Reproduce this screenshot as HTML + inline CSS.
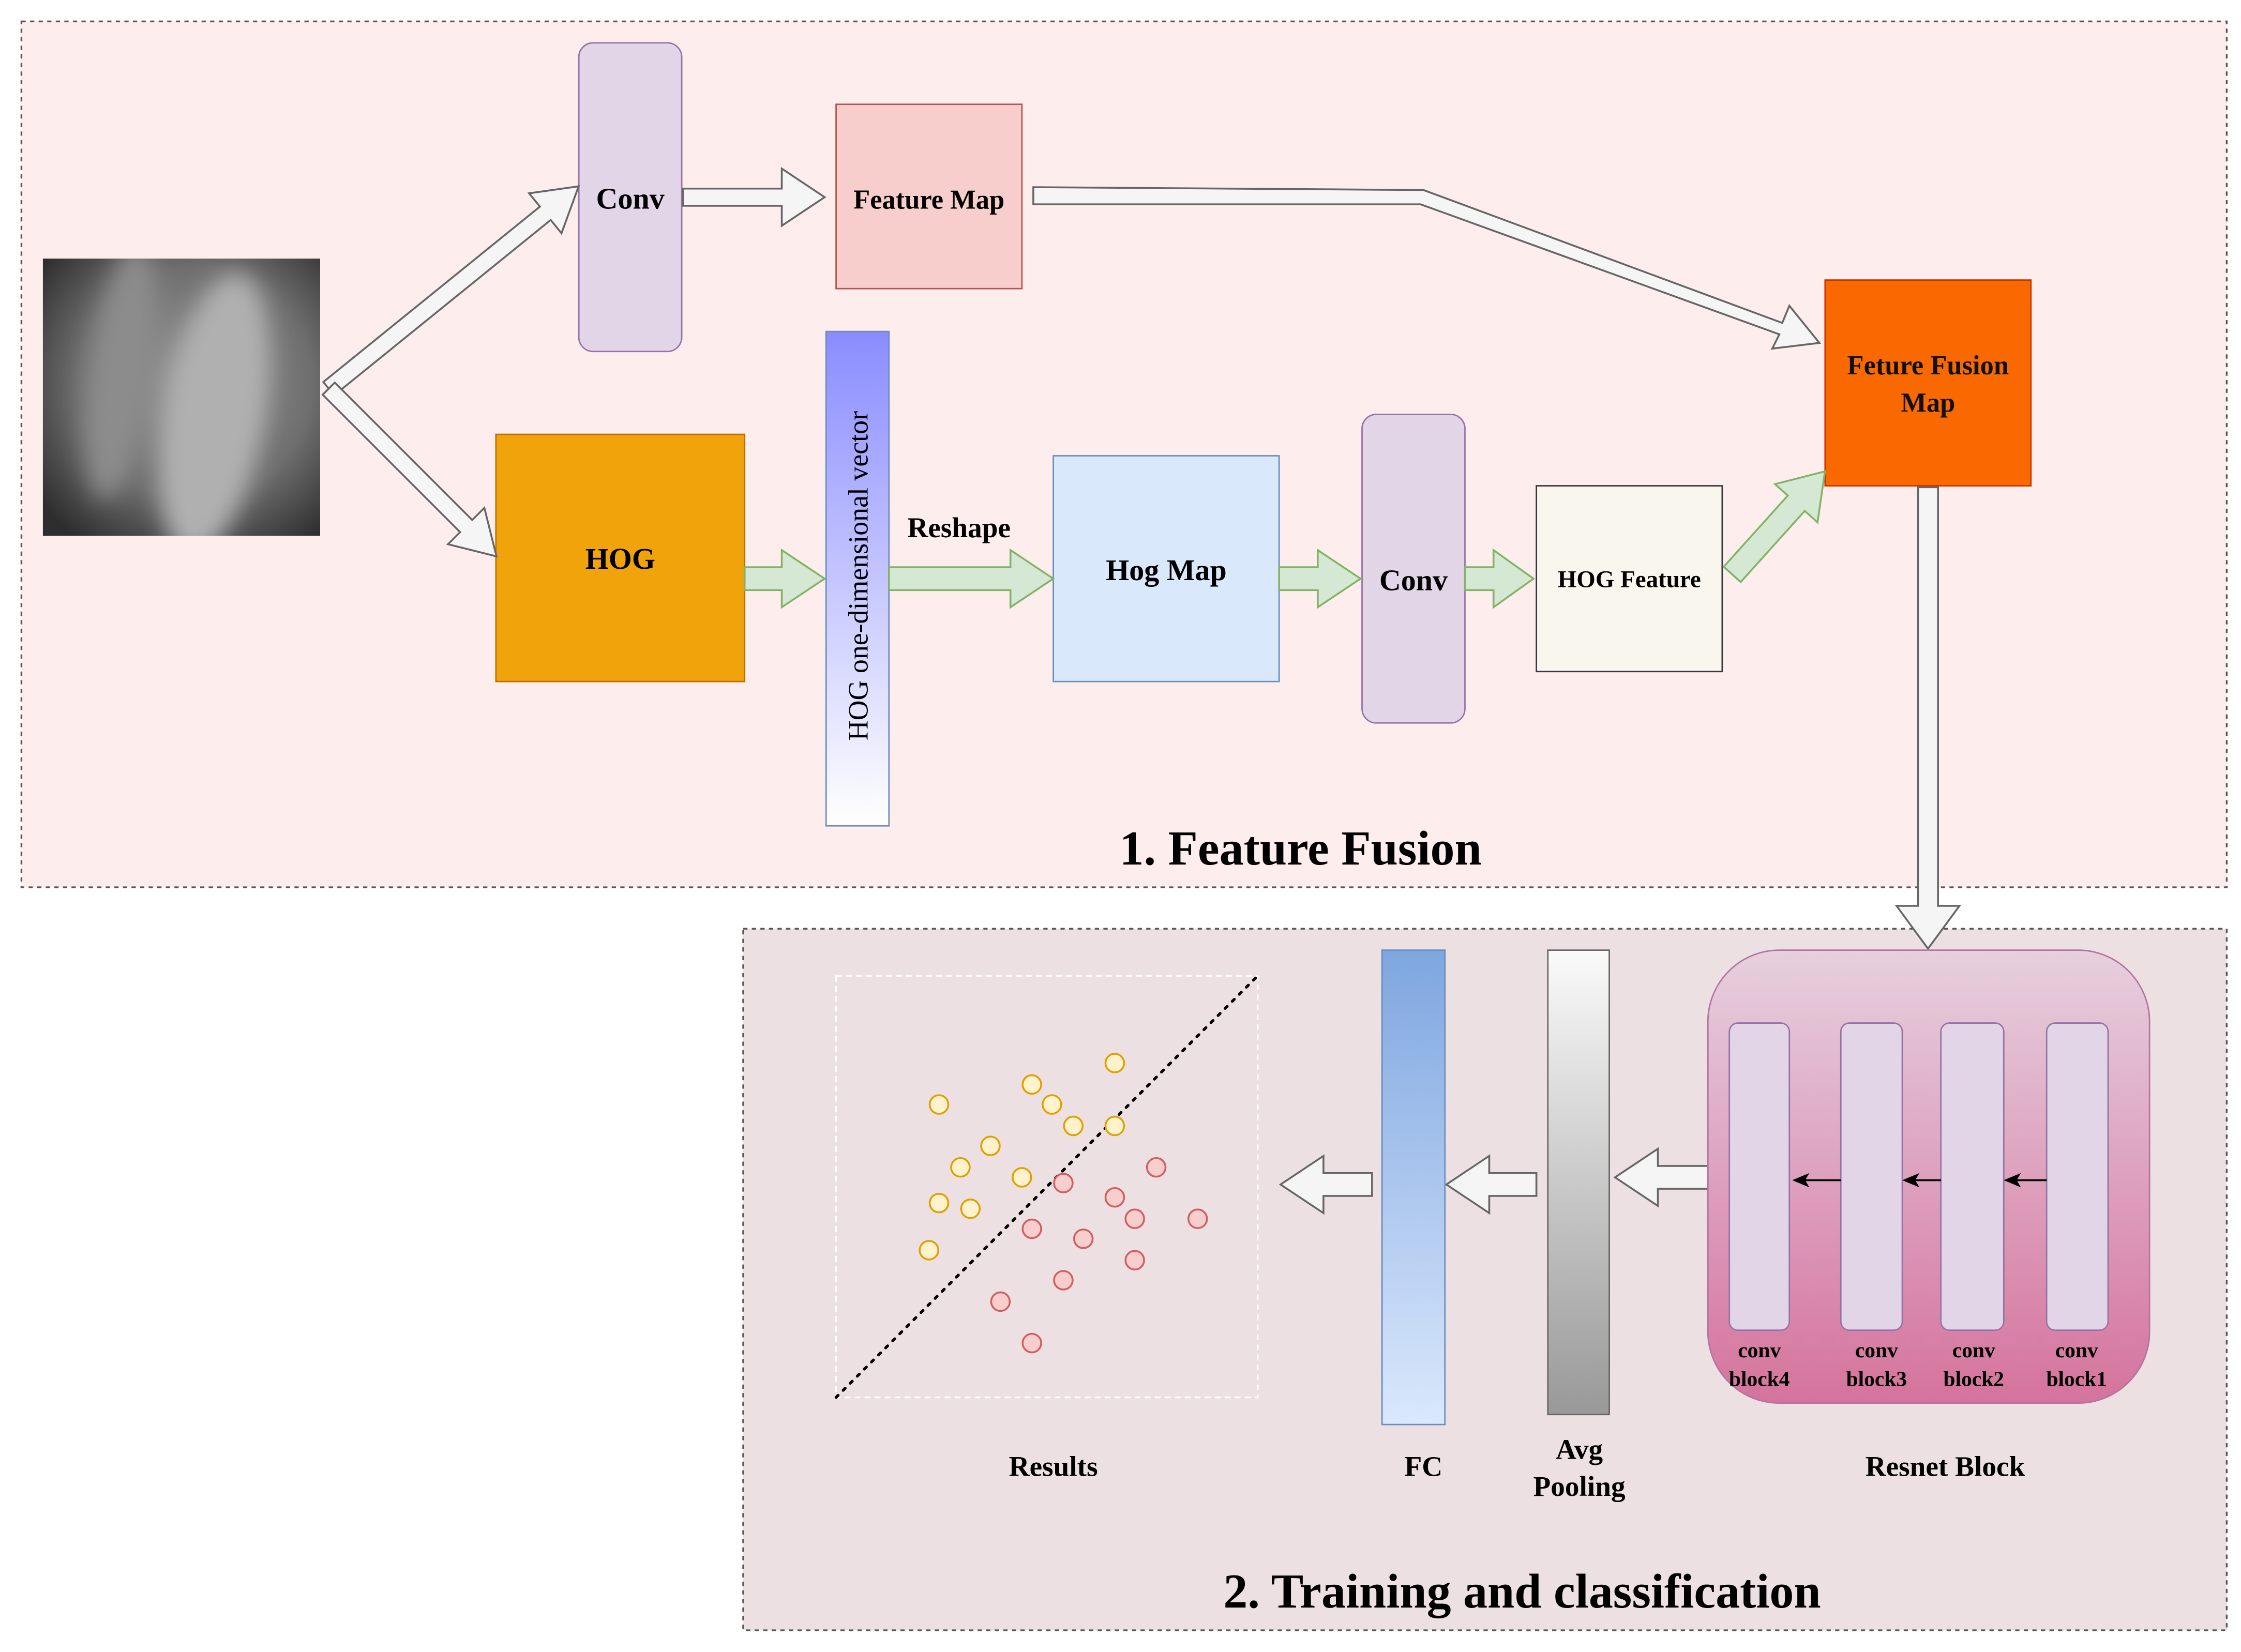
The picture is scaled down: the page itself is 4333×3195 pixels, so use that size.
<!DOCTYPE html>
<html><head><meta charset="utf-8"><style>html,body{margin:0;padding:0;background:#fff}svg{display:block}</style></head>
<body>
<svg width="4333" height="3195" viewBox="0 0 1568 1156.2" preserveAspectRatio="none" xmlns="http://www.w3.org/2000/svg" font-family="Liberation Serif, serif">
<defs>
<linearGradient id="vec" x1="0" y1="0" x2="0" y2="1"><stop offset="0" stop-color="#8a8cff"/><stop offset="1" stop-color="#ffffff"/></linearGradient>
<linearGradient id="res" x1="0" y1="0" x2="0" y2="1"><stop offset="0" stop-color="#e6d0de"/><stop offset="1" stop-color="#d5739d"/></linearGradient>
<linearGradient id="avg" x1="0" y1="0" x2="0" y2="1"><stop offset="0" stop-color="#fafafa"/><stop offset="1" stop-color="#999"/></linearGradient>
<linearGradient id="fc" x1="0" y1="0" x2="0" y2="1"><stop offset="0" stop-color="#7ea6e0"/><stop offset="1" stop-color="#dae8fc"/></linearGradient>
<radialGradient id="img" cx="0.55" cy="0.45" r="0.7"><stop offset="0" stop-color="#9a9a9a"/><stop offset="0.6" stop-color="#6e6e6e"/><stop offset="1" stop-color="#2e2e2e"/></radialGradient>
<filter id="bl"><feGaussianBlur stdDeviation="8"/></filter>
<clipPath id="ic"><rect x="30" y="181" width="194" height="194"/></clipPath>
</defs>
<rect x="15" y="15" width="1543" height="606" fill="#fdeeed" stroke="#555" stroke-dasharray="3,3" stroke-width="1.2"/>
<rect x="520" y="650" width="1038" height="491" fill="#ece0e3" stroke="#555" stroke-dasharray="3,3" stroke-width="1.2"/>
<rect x="30" y="181" width="194" height="194" fill="url(#img)"/>
<g clip-path="url(#ic)" filter="url(#bl)">
<ellipse cx="150" cy="290" rx="35" ry="100" fill="#b0b0b0" transform="rotate(10 150 290)"/>
<ellipse cx="85" cy="260" rx="22" ry="90" fill="#8c8c8c" transform="rotate(8 85 260)"/>
</g>
<rect x="405" y="30" width="72" height="216" rx="10" fill="#e1d5e7" stroke="#9673a6"/>
<rect x="585" y="73" width="130" height="129" fill="#f8cecc" stroke="#b85450"/>
<rect x="1277" y="196" width="144" height="144" fill="#fa6800" stroke="#c73500"/>
<rect x="347" y="304" width="174" height="173" fill="#f0a30a" stroke="#bd7000"/>
<rect x="578" y="232" width="44" height="346" fill="url(#vec)" stroke="#6c8ebf"/>
<rect x="737" y="319" width="158" height="158" fill="#dae8fc" stroke="#6c8ebf"/>
<rect x="953" y="290" width="72" height="216" rx="10" fill="#e1d5e7" stroke="#9673a6"/>
<rect x="1075" y="340" width="130" height="130" fill="#f9f7ed" stroke="#36393d"/>
<g fill="#f5f5f5" stroke="#666" stroke-width="1.3">
<polygon points="0,-6 195,-6 195,-18 225,0 195,18 195,6 0,6" transform="translate(230,272) rotate(-39)"/>
<polygon points="0,-6 136,-6 136,-18 166,0 136,18 136,6 0,6" transform="translate(230,272) rotate(45)"/>
<polygon points="0,-6 69,-6 69,-20 99,0 69,20 69,6 0,6" transform="translate(478,138)"/>
<polygon points="723,131 996,133 1247,226 1252,214 1273,240 1240,244 1245,234 994,143 723,143"/>
<polygon points="0,-7 293,-7 293,-22 323,0 293,22 293,7 0,7" transform="translate(1349,341) rotate(90)"/>
<polygon points="0,-8 48,-8 48,-20 78,0 48,20 48,8 0,8" transform="translate(1208,824) rotate(180)"/>
<polygon points="0,-8 33,-8 33,-20 63,0 33,20 33,8 0,8" transform="translate(1075,829) rotate(180)"/>
<polygon points="0,-8 34,-8 34,-20 64,0 34,20 34,8 0,8" transform="translate(960,829) rotate(180)"/>
</g>
<g fill="#d5e8d4" stroke="#82b366" stroke-width="1.3">
<polygon points="0,-8 26,-8 26,-20 56,0 26,20 26,8 0,8" transform="translate(521,405)"/>
<polygon points="0,-8 85,-8 85,-20 115,0 85,20 85,8 0,8" transform="translate(622,405)"/>
<polygon points="0,-8 27,-8 27,-20 57,0 27,20 27,8 0,8" transform="translate(895,405)"/>
<polygon points="0,-8 20,-8 20,-20 48,0 20,20 20,8 0,8" transform="translate(1025,405)"/>
<polygon points="0,-8 67,-8 67,-20 97,0 67,20 67,8 0,8" transform="translate(1212,402) rotate(-48)"/>
</g>
<g font-weight="bold" fill="#000" text-anchor="middle">
<text x="441" y="146" font-size="21">Conv</text>
<text x="650" y="146" font-size="19">Feature Map</text>
<text x="1349" y="262" font-size="19" fill="#111">Feture Fusion</text>
<text x="1349" y="288" font-size="19" fill="#111">Map</text>
<text x="434" y="398" font-size="21">HOG</text>
<text x="671" y="376" font-size="20">Reshape</text>
<text x="816" y="406" font-size="21">Hog Map</text>
<text x="989" y="413" font-size="21">Conv</text>
<text x="1140" y="411" font-size="17">HOG Feature</text>
<text x="910" y="605" font-size="34">1. Feature Fusion</text>
<text x="1065" y="1125" font-size="34">2. Training and classification</text>
<text x="737" y="1033" font-size="20">Results</text>
<text x="996" y="1033" font-size="20">FC</text>
<text x="1105" y="1021" font-size="20">Avg</text>
<text x="1105" y="1047" font-size="20">Pooling</text>
<text x="1361" y="1033" font-size="20">Resnet Block</text>
</g>
<text x="0" y="0" font-size="19.5" text-anchor="middle" transform="translate(607,403) rotate(-90)">HOG one-dimensional vector</text>
<rect x="1195" y="665" width="309" height="317" rx="50" fill="url(#res)" stroke="#b5739d"/>
<g fill="#e1d5e7" stroke="#9673a6">
<rect x="1210" y="716" width="42" height="215" rx="6"/>
<rect x="1288" y="716" width="43" height="215" rx="6"/>
<rect x="1358" y="716" width="44" height="215" rx="6"/>
<rect x="1432" y="716" width="43" height="215" rx="6"/>
</g>
<g stroke="#000" stroke-width="1.3">
<line x1="1288" y1="826" x2="1262" y2="826"/><line x1="1358" y1="826" x2="1339" y2="826"/><line x1="1432" y1="826" x2="1410" y2="826"/>
</g>
<g fill="#000">
<polygon points="1254,826 1266,821 1263,826 1266,831"/>
<polygon points="1331,826 1343,821 1340,826 1343,831"/>
<polygon points="1402,826 1414,821 1411,826 1414,831"/>
</g>
<g font-weight="bold" font-size="15" text-anchor="middle">
<text x="1231" y="950">conv</text><text x="1231" y="970">block4</text>
<text x="1313" y="950">conv</text><text x="1313" y="970">block3</text>
<text x="1381" y="950">conv</text><text x="1381" y="970">block2</text>
<text x="1453" y="950">conv</text><text x="1453" y="970">block1</text>
</g>
<rect x="1083" y="665" width="43" height="325" fill="url(#avg)" stroke="#666"/>
<rect x="967" y="665" width="44" height="332" fill="url(#fc)" stroke="#6c8ebf"/>
<rect x="585" y="683" width="295" height="295" fill="none" stroke="#fff" stroke-dasharray="4,3" stroke-width="1.2"/>
<line x1="585" y1="978" x2="880" y2="683" stroke="#000" stroke-width="2" stroke-dasharray="2,5" stroke-linecap="round"/>
<g fill="#fff2cc" stroke="#e0a000" stroke-width="1.3">
<circle cx="657" cy="773" r="6.5"/><circle cx="722" cy="759" r="6.5"/><circle cx="736" cy="773" r="6.5"/><circle cx="780" cy="744" r="6.5"/><circle cx="751" cy="788" r="6.5"/><circle cx="780" cy="788" r="6.5"/><circle cx="693" cy="802" r="6.5"/><circle cx="672" cy="817" r="6.5"/><circle cx="715" cy="824" r="6.5"/><circle cx="657" cy="842" r="6.5"/><circle cx="679" cy="846" r="6.5"/><circle cx="650" cy="875" r="6.5"/>
</g>
<g fill="#f8cecc" stroke="#d06060" stroke-width="1.3">
<circle cx="744" cy="828" r="6.5"/><circle cx="809" cy="817" r="6.5"/><circle cx="780" cy="838" r="6.5"/><circle cx="794" cy="853" r="6.5"/><circle cx="838" cy="853" r="6.5"/><circle cx="722" cy="860" r="6.5"/><circle cx="758" cy="867" r="6.5"/><circle cx="794" cy="882" r="6.5"/><circle cx="744" cy="896" r="6.5"/><circle cx="700" cy="911" r="6.5"/><circle cx="722" cy="940" r="6.5"/>
</g>
</svg>
</body></html>
